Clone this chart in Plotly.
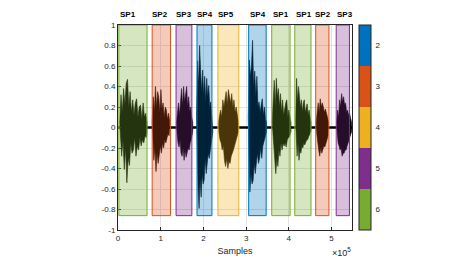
import plotly.graph_objects as go

# ---------------- data (x in samples) ----------------
speakers = ["SP1", "SP2", "SP3", "SP4", "SP5", "SP4", "SP1", "SP1", "SP2", "SP3"]
speaker_ids = [6, 3, 5, 2, 4, 2, 6, 6, 3, 5]
rect_start = [0.02e5, 0.80e5, 1.36e5, 1.85e5, 2.34e5, 3.06e5, 3.60e5, 4.14e5, 4.63e5, 5.11e5]
rect_end = [0.68e5, 1.23e5, 1.73e5, 2.20e5, 2.83e5, 3.47e5, 4.03e5, 4.52e5, 4.94e5, 5.42e5]
label_pos = [0.235e5, 0.986e5, 1.55e5, 2.03e5, 2.52e5, 3.28e5, 3.81e5, 4.35e5, 4.81e5, 5.31e5]
rect_bottom = -0.86
rect_top = 1.0

# waveform envelopes (start, end, upper peaks, lower peaks)
wave_start = [0.04e5, 0.80e5, 1.37e5, 1.84e5, 2.35e5, 3.05e5, 3.61e5, 4.16e5, 4.64e5, 5.12e5]
wave_end = [0.68e5, 1.21e5, 1.75e5, 2.22e5, 2.82e5, 3.48e5, 4.05e5, 4.52e5, 4.93e5, 5.47e5]
wave_top = [
    [0.05, 0.32, 0.15, 0.38, 0.22, 0.43, 0.47, 0.2, 0.35, 0.15, 0.27, 0.12, 0.24, 0.28, 0.1, 0.2, 0.22, 0.08, 0.24, 0.1, 0.14, 0.05],
    [0.05, 0.3, 0.15, 0.4, 0.2, 0.35, 0.3, 0.15, 0.37, 0.18, 0.24, 0.1, 0.2, 0.17, 0.08, 0.14, 0.06],
    [0.05, 0.2, 0.24, 0.12, 0.3, 0.38, 0.2, 0.4, 0.25, 0.33, 0.4, 0.2, 0.3, 0.15, 0.2, 0.1, 0.05],
    [0.1, 0.65, 0.4, 0.8, 0.55, 0.35, 0.56, 0.3, 0.5, 0.25, 0.48, 0.3, 0.41, 0.2, 0.25, 0.1, 0.05],
    [0.05, 0.12, 0.17, 0.1, 0.27, 0.2, 0.3, 0.35, 0.22, 0.37, 0.3, 0.24, 0.33, 0.2, 0.27, 0.15, 0.2, 0.1, 0.05],
    [0.1, 0.66, 0.5, 0.6, 0.85, 0.4, 0.55, 0.3, 0.5, 0.2, 0.25, 0.15, 0.22, 0.28, 0.12, 0.2, 0.08, 0.05],
    [0.05, 0.3, 0.46, 0.2, 0.48, 0.3, 0.38, 0.2, 0.33, 0.15, 0.27, 0.12, 0.2, 0.24, 0.27, 0.1, 0.17, 0.1, 0.05],
    [0.05, 0.48, 0.25, 0.4, 0.3, 0.2, 0.27, 0.15, 0.24, 0.27, 0.15, 0.2, 0.23, 0.12, 0.17, 0.1, 0.05],
    [0.05, 0.15, 0.24, 0.15, 0.28, 0.2, 0.24, 0.2, 0.15, 0.18, 0.12, 0.1, 0.05],
    [0.05, 0.17, 0.1, 0.27, 0.2, 0.33, 0.25, 0.3, 0.22, 0.24, 0.15, 0.17, 0.12, 0.14, 0.09, 0.05],
]
wave_bot = [
    [-0.05, -0.28, -0.12, -0.41, -0.2, -0.54, -0.3, -0.37, -0.15, -0.25, -0.22, -0.1, -0.28, -0.18, -0.22, -0.1, -0.18, -0.12, -0.15, -0.08, -0.1, -0.04],
    [-0.05, -0.32, -0.2, -0.43, -0.25, -0.35, -0.28, -0.18, -0.25, -0.15, -0.2, -0.12, -0.15, -0.12, -0.06, -0.08, -0.04],
    [-0.05, -0.15, -0.19, -0.12, -0.25, -0.28, -0.2, -0.32, -0.22, -0.29, -0.25, -0.2, -0.22, -0.15, -0.12, -0.08, -0.04],
    [-0.1, -0.6, -0.79, -0.5, -0.68, -0.45, -0.55, -0.51, -0.3, -0.45, -0.38, -0.25, -0.3, -0.18, -0.15, -0.08, -0.04],
    [-0.05, -0.12, -0.15, -0.22, -0.18, -0.32, -0.38, -0.3, -0.4, -0.33, -0.35, -0.28, -0.25, -0.22, -0.19, -0.15, -0.12, -0.06, -0.04],
    [-0.1, -0.63, -0.45, -0.55, -0.52, -0.35, -0.45, -0.39, -0.25, -0.35, -0.3, -0.2, -0.3, -0.18, -0.15, -0.1, -0.06, -0.04],
    [-0.05, -0.2, -0.32, -0.45, -0.3, -0.38, -0.22, -0.28, -0.15, -0.22, -0.15, -0.18, -0.15, -0.19, -0.12, -0.1, -0.09, -0.06, -0.04],
    [-0.05, -0.28, -0.15, -0.32, -0.22, -0.25, -0.18, -0.2, -0.15, -0.17, -0.14, -0.12, -0.12, -0.09, -0.07, -0.05, -0.03],
    [-0.05, -0.15, -0.22, -0.28, -0.2, -0.25, -0.22, -0.18, -0.19, -0.15, -0.12, -0.08, -0.04],
    [-0.05, -0.15, -0.18, -0.22, -0.2, -0.28, -0.25, -0.25, -0.22, -0.22, -0.18, -0.15, -0.12, -0.09, -0.06, -0.04],
]

x_max = 5.48e5
x_ticks = [0, 1e5, 2e5, 3e5, 4e5, 5e5]
x_tick_text = ["0", "1", "2", "3", "4", "5"]
y_ticks = [-1, -0.8, -0.6, -0.4, -0.2, 0, 0.2, 0.4, 0.6, 0.8, 1]
y_tick_text = ["-1", "-0.8", "-0.6", "-0.4", "-0.2", "0", "0.2", "0.4", "0.6", "0.8", "1"]
cbar_ids = [2, 3, 4, 5, 6]  # top to bottom

# ---------------- styles ----------------
colors = {2: "#0072BD", 3: "#D95319", 4: "#EDB120", 5: "#7E2F8E", 6: "#77AC30"}


def rgba(hexc, a):
    h = hexc.lstrip("#")
    return "rgba(%d,%d,%d,%.2f)" % (int(h[0:2], 16), int(h[2:4], 16), int(h[4:6], 16), a)


FONT = "Liberation Sans, Arial, sans-serif"
AX = "#262626"

fig = go.Figure()

# baseline (silence) thick line
fig.add_trace(go.Scatter(x=[0, x_max], y=[0, 0], mode="lines",
                         line=dict(color="black", width=2.5), hoverinfo="skip", showlegend=False))

# waveform envelopes
for s, e, tp, bt in zip(wave_start, wave_end, wave_top, wave_bot):
    n = len(tp)
    xs = [s + (e - s) * i / (n - 1) for i in range(n)]
    xb = [s + (e - s) * (i + 0.5) / (n - 1) if i < n - 1 else e for i in range(n)]
    px = xs + xb[::-1]
    py = tp + bt[::-1]
    fig.add_trace(go.Scatter(x=px + [px[0]], y=py + [py[0]], mode="lines", fill="toself",
                             fillcolor="black", line=dict(color="black", width=0.6),
                             hoverinfo="skip", showlegend=False))

# speaker rectangles
shapes = []
for s, e, sid in zip(rect_start, rect_end, speaker_ids):
    shapes.append(dict(type="rect", xref="x", yref="y", x0=s, x1=e, y0=rect_bottom, y1=rect_top,
                       fillcolor=rgba(colors[sid], 0.3), line=dict(color=colors[sid], width=1),
                       layer="above"))

annotations = []
for name, xp in zip(speakers, label_pos):
    annotations.append(dict(x=xp, y=1.05, xref="x", yref="paper", text="<b>%s</b>" % name,
                            showarrow=False, font=dict(family=FONT, size=8, color="black"),
                            xanchor="center", yanchor="middle"))
annotations.append(dict(x=0.957, y=-0.107, xref="paper", yref="paper", text="×10<sup>5</sup>",
                        showarrow=False, font=dict(family=FONT, size=9, color=AX),
                        xanchor="center", yanchor="middle"))

# colorbar via dummy trace; value v = 8 - id so that id 2 sits on top
nb = len(cbar_ids)
bottom_to_top = cbar_ids[::-1]
cs = []
for i, cid in enumerate(bottom_to_top):
    cs.append([i / nb, colors[cid]])
    cs.append([(i + 1) / nb, colors[cid]])
fig.add_trace(go.Scatter(x=[None], y=[None], mode="markers",
                         marker=dict(color=[8 - cbar_ids[0]], colorscale=cs, cmin=1.5, cmax=6.5,
                                     showscale=True,
                                     colorbar=dict(x=1.03, xanchor="left", y=0.5, yanchor="middle",
                                                   thickness=12, lenmode="pixels", len=205,
                                                   tickvals=[8 - c for c in cbar_ids],
                                                   ticktext=[str(c) for c in cbar_ids],
                                                   ticks="outside", ticklen=3, tickcolor="rgba(0,0,0,0)",
                                                   outlinecolor=AX, outlinewidth=1,
                                                   tickfont=dict(family=FONT, size=8, color=AX),
                                                   ypad=0, xpad=0)),
                         hoverinfo="skip", showlegend=False))

fig.update_layout(
    width=474, height=266,
    margin=dict(l=118, r=122, t=25, b=36),
    paper_bgcolor="white", plot_bgcolor="white",
    shapes=shapes, annotations=annotations,
    font=dict(family=FONT, size=8, color=AX),
    xaxis=dict(range=[0, x_max], tickvals=x_ticks, ticktext=x_tick_text,
               showgrid=True, gridcolor="#e3e3e3", gridwidth=1, zeroline=False,
               showline=True, linecolor=AX, linewidth=1, mirror=True,
               ticks="inside", ticklen=3, tickcolor=AX,
               tickfont=dict(family=FONT, size=8, color=AX),
               title=dict(text="Samples", font=dict(family=FONT, size=9, color=AX), standoff=6)),
    yaxis=dict(range=[-1, 1], tickvals=y_ticks, ticktext=y_tick_text,
               showgrid=True, gridcolor="#e3e3e3", gridwidth=1, zeroline=False,
               showline=True, linecolor=AX, linewidth=1, mirror=True,
               ticks="inside", ticklen=3, tickcolor=AX,
               tickfont=dict(family=FONT, size=8, color=AX)),
)

fig.write_html("out.html")
